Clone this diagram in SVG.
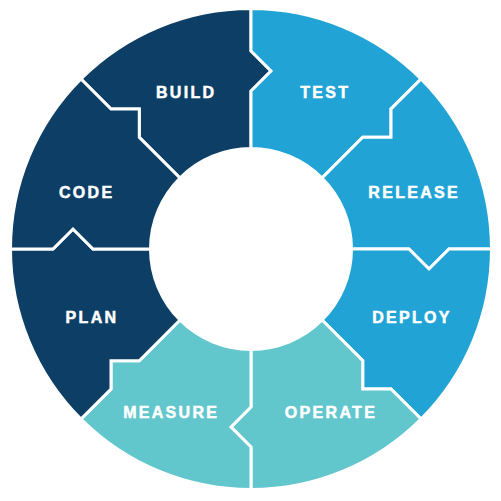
<svg xmlns="http://www.w3.org/2000/svg" width="501" height="501" viewBox="0 0 501 501">
<style>
.seg{stroke:#ffffff;stroke-width:3;stroke-linejoin:miter}
.navy{fill:#0D3F66}
.blue{fill:#21A4D5}
.teal{fill:#62C6CD}
.lbl{font-family:"Liberation Sans",Arial,sans-serif;font-weight:bold;font-size:16px;letter-spacing:2.3px;fill:#ffffff;stroke:#ffffff;stroke-width:0.5;text-anchor:middle}
</style>
<rect width="501" height="501" fill="#ffffff"/>
<g id="build">
<path class="seg navy" d="M80.94,78.94 A240.5,240.5 0 0 1 251,8.5 L251,51 L271,71 L251,91 L251,148.5 A100.5,100.5 0 0 0 179.94,177.94 L139.28,137.28 L139.27,108.99 L110.99,108.99 Z"/>
<text class="lbl" x="186.2" y="97.5">BUILD</text>
</g>
<g id="test">
<path class="seg blue" d="M251,8.5 A240.5,240.5 0 0 1 421.06,78.94 L391.01,108.99 L391.01,137.27 L362.72,137.28 L322.06,177.94 A100.5,100.5 0 0 0 251,148.5 L251,91 L271,71 L251,51 Z"/>
<text class="lbl" x="325.2" y="97.5">TEST</text>
</g>
<g id="release">
<path class="seg blue" d="M421.06,78.94 A240.5,240.5 0 0 1 491.5,249 L449,249 L429,269 L409,249 L351.5,249 A100.5,100.5 0 0 0 322.06,177.94 L362.72,137.28 L391.01,137.27 L391.01,108.99 Z"/>
<text class="lbl" x="414.2" y="198">RELEASE</text>
</g>
<g id="deploy">
<path class="seg blue" d="M491.5,249 A240.5,240.5 0 0 1 421.06,419.06 L391.01,389.01 L362.73,389.01 L362.72,360.72 L322.06,320.06 A100.5,100.5 0 0 0 351.5,249 L409,249 L429,269 L449,249 Z"/>
<text class="lbl" x="412" y="323">DEPLOY</text>
</g>
<g id="operate">
<path class="seg teal" d="M421.06,419.06 A240.5,240.5 0 0 1 251,489.5 L251,447 L231,427 L251,407 L251,349.5 A100.5,100.5 0 0 0 322.06,320.06 L362.72,360.72 L362.73,389.01 L391.01,389.01 Z"/>
<text class="lbl" x="331" y="418">OPERATE</text>
</g>
<g id="measure">
<path class="seg teal" d="M251,489.5 A240.5,240.5 0 0 1 80.94,419.06 L110.99,389.01 L110.99,360.73 L139.28,360.72 L179.94,320.06 A100.5,100.5 0 0 0 251,349.5 L251,407 L231,427 L251,447 Z"/>
<text class="lbl" x="171.2" y="418">MEASURE</text>
</g>
<g id="plan">
<path class="seg navy" d="M80.94,419.06 A240.5,240.5 0 0 1 10.5,249 L53,249 L73,229 L93,249 L150.5,249 A100.5,100.5 0 0 0 179.94,320.06 L139.28,360.72 L110.99,360.73 L110.99,389.01 Z"/>
<text class="lbl" x="92" y="323">PLAN</text>
</g>
<g id="code">
<path class="seg navy" d="M10.5,249 A240.5,240.5 0 0 1 80.94,78.94 L110.99,108.99 L139.27,108.99 L139.28,137.28 L179.94,177.94 A100.5,100.5 0 0 0 150.5,249 L93,249 L73,229 L53,249 Z"/>
<text class="lbl" x="86.7" y="198">CODE</text>
</g>
<g id="connectors"></g>
</svg>
